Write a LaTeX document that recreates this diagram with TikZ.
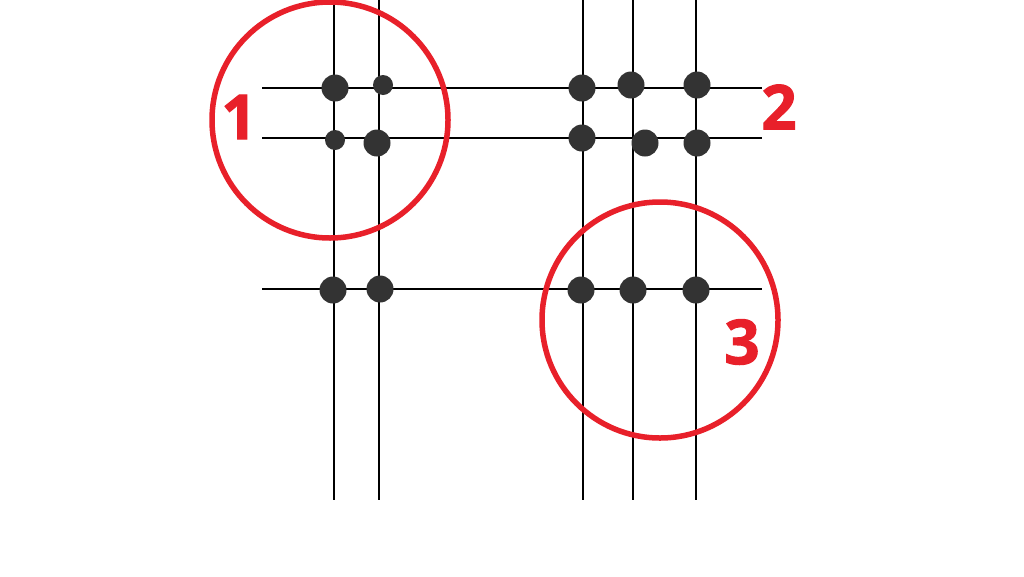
\documentclass[tikz,border=0pt]{standalone}
\usepackage{fontspec}
\setmainfont{Open Sans}
\newfontfamily\numfont{Open Sans}[FakeBold=1.6]
\definecolor{ringred}{HTML}{E8202A}
\definecolor{dotgray}{HTML}{333333}
\begin{document}
\begin{tikzpicture}[x=1pt,y=-1pt,
  wire/.style={line width=2.4pt,black},
  ring/.style={circle,draw=ringred,line width=5.5pt,inner sep=0pt,minimum size=236pt},
  bigdot/.style={circle,fill=dotgray,inner sep=0pt,minimum size=27pt},
  smalldot/.style={circle,fill=dotgray,inner sep=0pt,minimum size=20pt},
  num/.style={text=ringred,font=\numfont\bfseries\fontsize{62}{62}\selectfont,inner sep=0pt}]
\useasboundingbox[fill=white] (0,0) rectangle (1024,576);
% wire end points
\foreach \n/\x in {a/334,b/379,c/583,d/633,e/696}{
  \coordinate (\n top) at (\x,0);
  \coordinate (\n bot) at (\x,500);
}
\foreach \n/\y in {r1/88,r2/138,r3/289}{
  \coordinate (\n l) at (262,\y);
  \coordinate (\n r) at (762,\y);
}
\foreach \n in {a,b,c,d,e}{\draw[wire] (\n top) -- (\n bot);}
\foreach \n in {r1,r2,r3}{\draw[wire] (\n l) -- (\n r);}
% rings
\node[ring] (ring1) at (330,120) {};
\node[ring] (ring3) at (660,320) {};
% dots
\node[bigdot] (d11) at (335,88) {};
\node[smalldot] (d12) at (383,85) {};
\node[smalldot] (d21) at (335,140) {};
\node[bigdot] (d22) at (377,143) {};
\node[bigdot] (d13) at (582,88) {};
\node[bigdot] (d14) at (631,85) {};
\node[bigdot] (d15) at (697,85) {};
\node[bigdot] (d23) at (582,138) {};
\node[bigdot] (d24) at (645,143) {};
\node[bigdot] (d25) at (697,143) {};
\node[bigdot] (d31) at (333,290) {};
\node[bigdot] (d32) at (380,289) {};
\node[bigdot] (d33) at (581,290) {};
\node[bigdot] (d34) at (633,290) {};
\node[bigdot] (d35) at (696,290) {};
% labels
\node[num] (n1) at (239,117) {1};
\node[num] (n2) at (779,107) {2};
\node[num] (n3) at (742,342) {3};
\end{tikzpicture}
\end{document}
